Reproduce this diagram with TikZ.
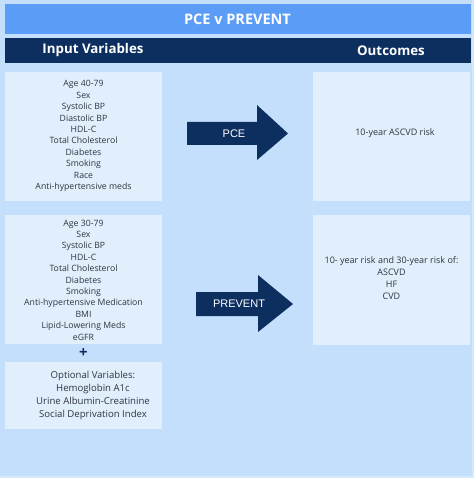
\documentclass[tikz,border=0pt]{standalone}
\usepackage{fontspec}
\setmainfont{Open Sans}
\newfontfamily\arrowfont{Liberation Sans}
\definecolor{SkyBack}{HTML}{C3DFFC}
\definecolor{SkyEdge}{HTML}{D6E9FB}
\definecolor{TitleBlue}{HTML}{5B9CF6}
\definecolor{NavyBar}{HTML}{0D2F60}
\definecolor{PaleBox}{HTML}{E1EFFC}
\definecolor{InkGrey}{HTML}{2E3442}
\usepackage{tikz}
\usetikzlibrary{positioning,calc}

\tikzset{
  varbox/.style={fill=PaleBox},
  vartext/.style={InkGrey, align=center, font=\fontsize{8.7}{11.4}\selectfont},
  arrowlabel/.style={white, font=\arrowfont\fontsize{11}{13}\selectfont},
  headtext/.style={white, font=\fontsize{13.3}{15}\selectfont\bfseries}
}

\begin{document}
\begin{tikzpicture}[x=1pt,y=-1pt]
  \useasboundingbox (0,0) rectangle (474,478);
  \fill[SkyEdge] (0,0) rectangle (474,478);
  \fill[SkyBack] (0,0) rectangle (472,476);

  % title and column heads
  \fill[TitleBlue] (5,4) rectangle (471,34);
  \node[headtext, font=\fontsize{14.5}{16}\selectfont\bfseries] (title) at (237.5,19) {PCE v PREVENT};
  \fill[NavyBar] (5,38) rectangle (471,63);
  \node[headtext] (inhead) at (93,50.5) {Input Variables};
  \node[headtext] (outhead) at (391,50.5) {Outcomes};

  % PCE row
  \fill[varbox] (5,72) rectangle (162,201);
  \node[vartext] (pcein) at (83.5,136) {Age 40-79\\Sex\\Systolic BP\\Diastolic BP\\HDL-C\\Total Cholesterol\\Diabetes\\Smoking\\Race\\Anti-hypertensive meds};
  \fill[varbox] (313,72) rectangle (470,201);
  \node[vartext, font=\fontsize{9}{12}\selectfont] (pceout) at (395,133) {10-year ASCVD risk};
  \fill[NavyBar] (187,122) -- (257,122) -- (257,105) -- (288,133.5)
    -- (257,160) -- (257,145) -- (187,145) -- cycle;
  \node[arrowlabel] (pcelabel) at (234,133.5) {PCE};

  % PREVENT row
  \fill[varbox] (5,215) rectangle (162,344);
  \node[vartext] (previn) at (83.5,280) {Age 30-79\\Sex\\Systolic BP\\HDL-C\\Total Cholesterol\\Diabetes\\Smoking\\Anti-hypertensive Medication\\BMI\\Lipid-Lowering Meds\\eGFR};
  \node[NavyBar, font=\fontsize{15}{16}\selectfont\bfseries] (plus) at (83.5,353) {+};
  \fill[varbox] (5,362) rectangle (162,429);
  \node[vartext, font=\fontsize{9.6}{12.7}\selectfont] (optin) at (93,395.5) {Optional Variables:\\Hemoglobin A1c\\Urine Albumin-Creatinine\\Social Deprivation Index};
  \fill[varbox] (313,215) rectangle (470,345);
  \node[vartext, font=\fontsize{9}{12}\selectfont] (prevout) at (391.5,278) {10- year risk and 30-year risk of:\\ASCVD\\HF\\CVD};
  \fill[NavyBar] (196,292) -- (258,292) -- (258,275) -- (293,304)
    -- (258,332) -- (258,316) -- (196,316) -- cycle;
  \node[arrowlabel] (prevlabel) at (239,304) {PREVENT};
\end{tikzpicture}
\end{document}
